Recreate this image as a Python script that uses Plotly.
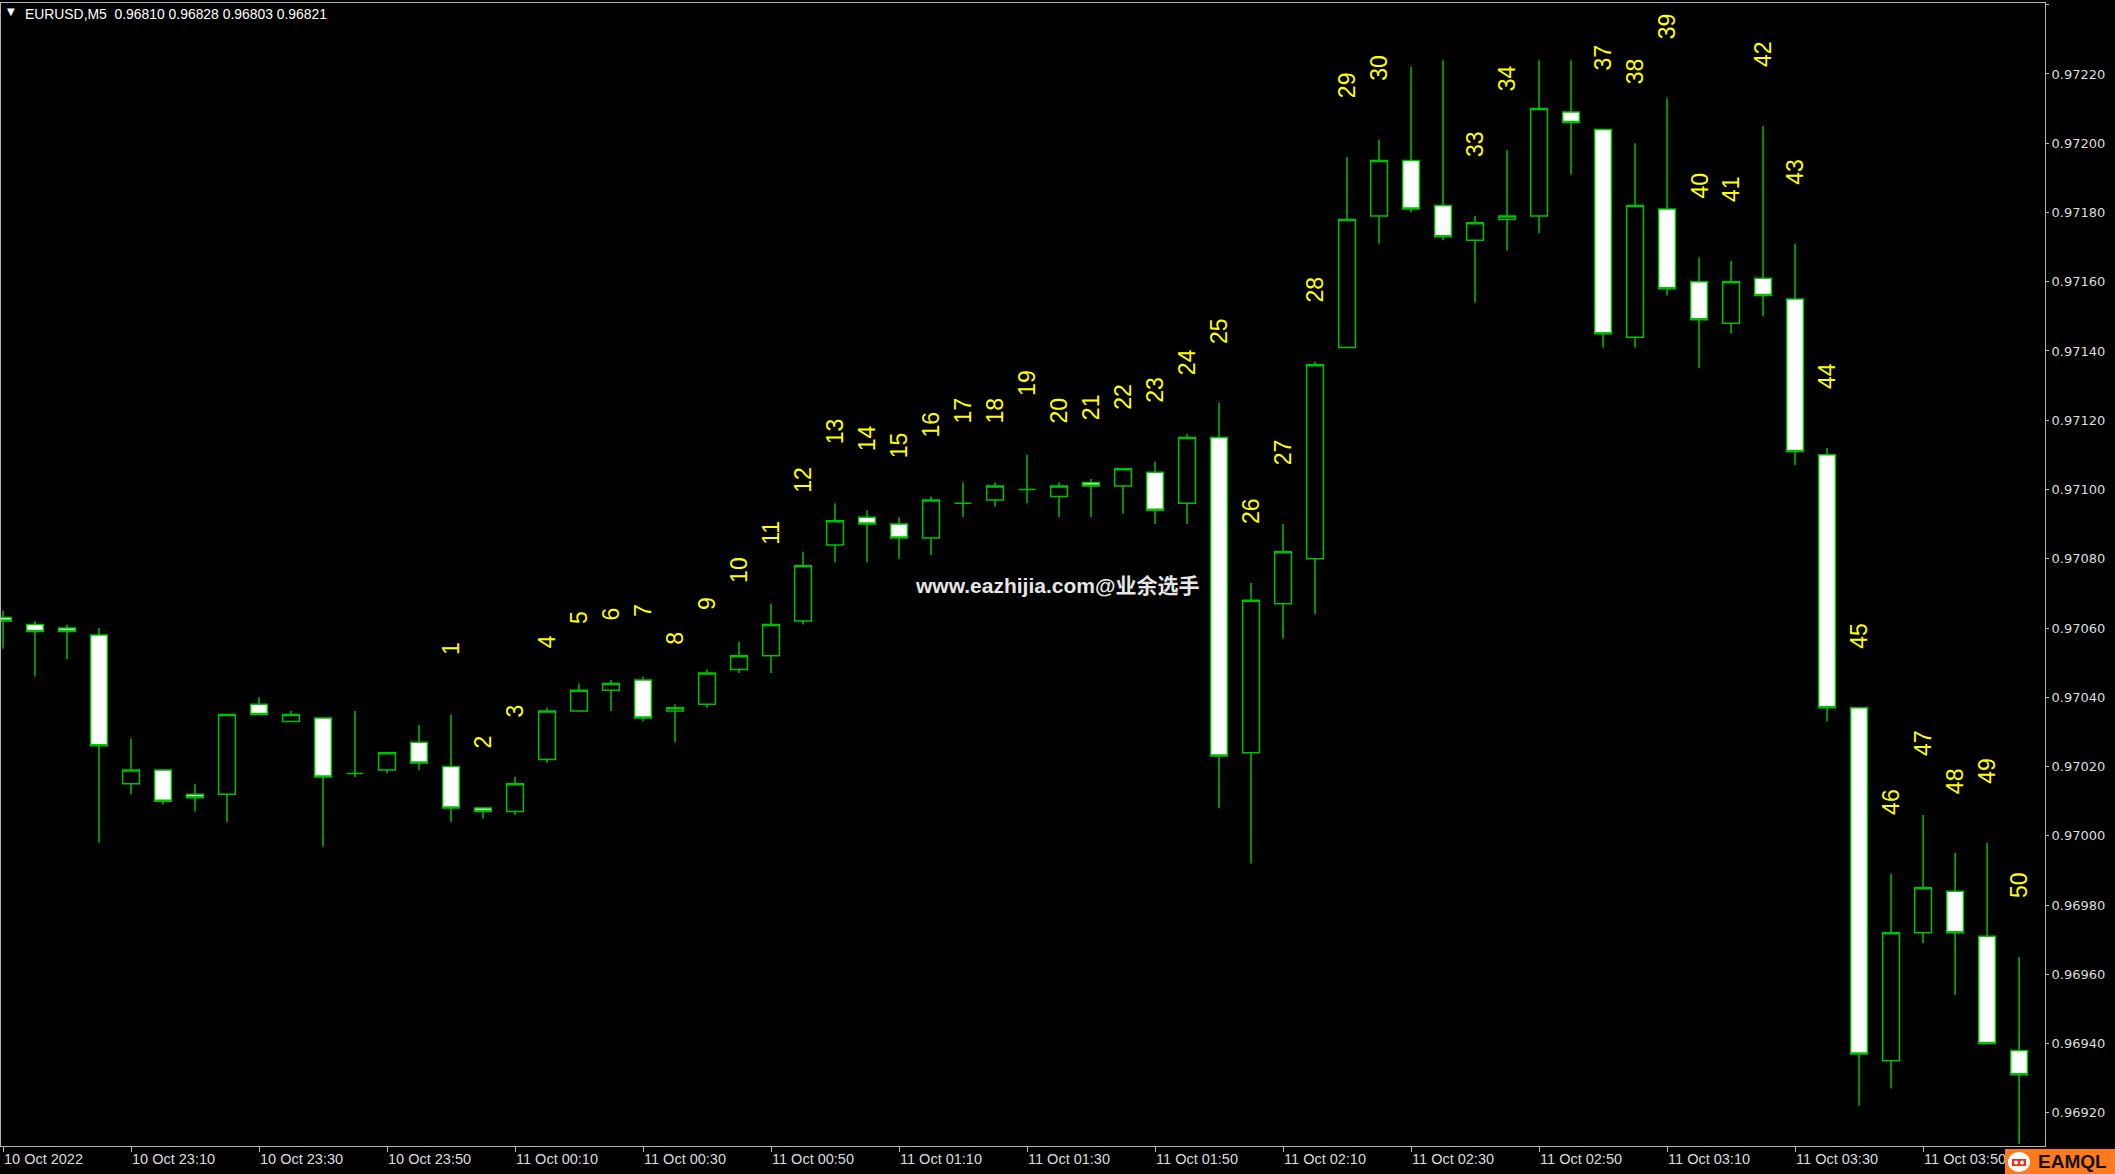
import plotly.graph_objects as go
import pandas as pd

# ---------------- data ----------------
bar_times = pd.date_range("2022-10-10 22:50", periods=64, freq="5min")

open_ = [0.97063, 0.97061, 0.97060, 0.97058, 0.97015, 0.97019, 0.97012, 0.97012,
         0.97038, 0.97033, 0.97034, 0.97018, 0.97019, 0.97027, 0.97020, 0.97008,
         0.97007, 0.97022, 0.97036, 0.97042, 0.97045, 0.97036, 0.97038, 0.97048,
         0.97052, 0.97062, 0.97084, 0.97092, 0.97090, 0.97086, 0.97096, 0.97097,
         0.97100, 0.97098, 0.97102, 0.97101, 0.97105, 0.97096, 0.97115, 0.97024,
         0.97067, 0.97080, 0.97141, 0.97179, 0.97195, 0.97182, 0.97172, 0.97178,
         0.97179, 0.97209, 0.97204, 0.97144, 0.97181, 0.97160, 0.97148, 0.97161,
         0.97155, 0.97110, 0.97037, 0.96935, 0.96972, 0.96984, 0.96971, 0.96938]
high = [0.97065, 0.97062, 0.97061, 0.97060, 0.97028, 0.97019, 0.97015, 0.97035,
        0.97040, 0.97036, 0.97034, 0.97036, 0.97024, 0.97032, 0.97035, 0.97008,
        0.97017, 0.97037, 0.97044, 0.97045, 0.97046, 0.97038, 0.97048, 0.97056,
        0.97067, 0.97082, 0.97096, 0.97094, 0.97092, 0.97098, 0.97102, 0.97102,
        0.97110, 0.97102, 0.97103, 0.97106, 0.97108, 0.97116, 0.97125, 0.97073,
        0.97090, 0.97137, 0.97196, 0.97201, 0.97222, 0.97224, 0.97179, 0.97198,
        0.97224, 0.97224, 0.97204, 0.97200, 0.97213, 0.97167, 0.97166, 0.97205,
        0.97171, 0.97112, 0.97037, 0.96989, 0.97006, 0.96995, 0.96998, 0.96965]
low = [0.97054, 0.97046, 0.97051, 0.96998, 0.97012, 0.97009, 0.97007, 0.97004,
       0.97035, 0.97033, 0.96997, 0.97017, 0.97018, 0.97019, 0.97004, 0.97005,
       0.97006, 0.97021, 0.97036, 0.97036, 0.97033, 0.97027, 0.97037, 0.97047,
       0.97047, 0.97061, 0.97079, 0.97079, 0.97080, 0.97081, 0.97092, 0.97095,
       0.97096, 0.97092, 0.97092, 0.97093, 0.97090, 0.97090, 0.97008, 0.96992,
       0.97057, 0.97064, 0.97141, 0.97171, 0.97180, 0.97172, 0.97154, 0.97169,
       0.97174, 0.97191, 0.97141, 0.97141, 0.97156, 0.97135, 0.97145, 0.97150,
       0.97107, 0.97033, 0.96922, 0.96927, 0.96969, 0.96954, 0.96940, 0.96911]
close = [0.97062, 0.97059, 0.97059, 0.97026, 0.97019, 0.97010, 0.97011, 0.97035,
         0.97035, 0.97035, 0.97017, 0.97018, 0.97024, 0.97021, 0.97008, 0.97007,
         0.97015, 0.97036, 0.97042, 0.97044, 0.97034, 0.97037, 0.97047, 0.97052,
         0.97061, 0.97078, 0.97091, 0.97090, 0.97086, 0.97097, 0.97096, 0.97101,
         0.97100, 0.97101, 0.97101, 0.97106, 0.97094, 0.97115, 0.97023, 0.97068,
         0.97082, 0.97136, 0.97178, 0.97195, 0.97181, 0.97173, 0.97177, 0.97179,
         0.97210, 0.97206, 0.97145, 0.97182, 0.97158, 0.97149, 0.97160, 0.97156,
         0.97111, 0.97037, 0.96937, 0.96972, 0.96985, 0.96972, 0.96940, 0.96931]

# numbered labels start at this bar index
count_labels = [str(n) for n in range(1, 51)]
label_first_bar = 14

tick_every = 4
x_tick_labels = ["10 Oct 2022", "10 Oct 23:10", "10 Oct 23:30", "10 Oct 23:50",
                 "11 Oct 00:10", "11 Oct 00:30", "11 Oct 00:50", "11 Oct 01:10",
                 "11 Oct 01:30", "11 Oct 01:50", "11 Oct 02:10", "11 Oct 02:30",
                 "11 Oct 02:50", "11 Oct 03:10", "11 Oct 03:30", "11 Oct 03:50"]

title_text = "EURUSD,M5  0.96810 0.96828 0.96803 0.96821"
watermark_text = "www.eazhijia.com@业余选手"
badge_text = "EAMQL"

# ---------------- figure ----------------
W, H = 2115, 1174
ML, MR, MT, MB = 1, 70, 3, 28
PW, PH = W - ML - MR, H - MT - MB
Y_RANGE = [0.969104, 0.972405]
LABEL_SHIFT = 57

GREEN = "#00c000"
AXIS_GREY = "#b4b4b4"
TEXT_GREY = "#dcdcdc"

fig = go.Figure()
fig.add_trace(go.Candlestick(
    x=bar_times, open=open_, high=high, low=low, close=close,
    increasing=dict(line=dict(color=GREEN, width=1.5), fillcolor="#000000"),
    decreasing=dict(line=dict(color=GREEN, width=1.5), fillcolor="#ffffff"),
    whiskerwidth=0, hoverinfo="skip", showlegend=False,
))

# numbered yellow labels above highs (labels that fall above the window are not drawn)
px_per_price = PH / (Y_RANGE[1] - Y_RANGE[0])
for k, txt in enumerate(count_labels):
    i = label_first_bar + k
    if (Y_RANGE[1] - high[i]) * px_per_price < LABEL_SHIFT + 8:
        continue
    fig.add_annotation(
        x=bar_times[i], y=high[i], text=txt, textangle=-90,
        showarrow=False, xanchor="center", yanchor="bottom", yshift=LABEL_SHIFT,
        font=dict(family="Liberation Sans, Arial", size=23, color="#ffff00"),
    )

def px(x):
    return (x - ML) / PW

def py(y):
    return (H - MB - y) / PH

# watermark
fig.add_annotation(
    xref="paper", yref="paper", x=px(1057), y=py(586), text=watermark_text,
    showarrow=False, xanchor="center", yanchor="middle",
    font=dict(family="Liberation Sans, Noto Sans CJK SC", size=21,
              color="#e6e6e6", weight="bold"),
)

# top-left title
fig.add_annotation(
    xref="paper", yref="paper", x=px(5), y=py(12), text="▼",
    showarrow=False, xanchor="left", yanchor="middle",
    font=dict(family="DejaVu Sans", size=10, color="#ffffff"),
)
fig.add_annotation(
    xref="paper", yref="paper", x=px(23), y=py(14), text=title_text,
    showarrow=False, xanchor="left", yanchor="middle",
    font=dict(family="Liberation Sans, Arial", size=13.9, color="#ffffff"),
)

# EAMQL badge bottom right
fig.add_shape(type="rect", xref="paper", yref="paper",
              x0=px(2005), x1=px(2115), y0=py(1174), y1=py(1149),
              fillcolor="#ff7a1c", line=dict(width=0), layer="above")
fig.add_shape(type="circle", xref="paper", yref="paper",
              x0=px(2008), x1=px(2030), y0=py(1172), y1=py(1152),
              fillcolor="#ffffff", line=dict(width=0), layer="above")
fig.add_shape(type="rect", xref="paper", yref="paper",
              x0=px(2012), x1=px(2026), y0=py(1166), y1=py(1159),
              fillcolor="#e8321e", line=dict(width=0), layer="above")
fig.add_shape(type="circle", xref="paper", yref="paper",
              x0=px(2014), x1=px(2018), y0=py(1164.5), y1=py(1160.5),
              fillcolor="#ffffff", line=dict(width=0), layer="above")
fig.add_shape(type="circle", xref="paper", yref="paper",
              x0=px(2020), x1=px(2024), y0=py(1164.5), y1=py(1160.5),
              fillcolor="#ffffff", line=dict(width=0), layer="above")
fig.add_annotation(
    xref="paper", yref="paper", x=px(2036), y=py(1161), text=badge_text,
    showarrow=False, xanchor="left", yanchor="middle",
    font=dict(family="Liberation Sans", size=19, color="#111111", weight="bold"),
)

x_start = bar_times[0] - pd.Timedelta(seconds=18.75)
x_end = bar_times[0] + pd.Timedelta(seconds=63.81 * 300)

fig.update_layout(
    width=W, height=H,
    margin=dict(l=ML, r=MR, t=MT, b=MB, pad=0),
    paper_bgcolor="#000000", plot_bgcolor="#000000",
    boxgap=0.25,
    showlegend=False,
    xaxis=dict(
        type="date", range=[x_start, x_end],
        rangeslider=dict(visible=False),
        tickvals=list(bar_times[::tick_every]), ticktext=x_tick_labels,
        ticklabelposition="outside right",
        ticks="outside", ticklen=5, tickcolor=AXIS_GREY, tickwidth=1,
        showline=True, linecolor=AXIS_GREY, linewidth=1, mirror=True,
        showgrid=False, zeroline=False,
        tickfont=dict(family="Liberation Sans, Arial", size=14.5, color=TEXT_GREY),
    ),
    yaxis=dict(
        side="right", range=Y_RANGE,
        tick0=0.9692, dtick=0.0002, tickformat=".5f",
        ticks="outside", ticklen=3, tickcolor=AXIS_GREY, tickwidth=1,
        showline=True, linecolor=AXIS_GREY, linewidth=1, mirror=True,
        showgrid=False, zeroline=False,
        tickfont=dict(family="DejaVu Sans", size=13, color=TEXT_GREY),
    ),
)

fig.write_html(
    "out.html",
    config={"displayModeBar": False},
    post_script="document.body.style.margin='0px';document.body.style.padding='0px';"
                "document.body.style.background='#000000';",
)
